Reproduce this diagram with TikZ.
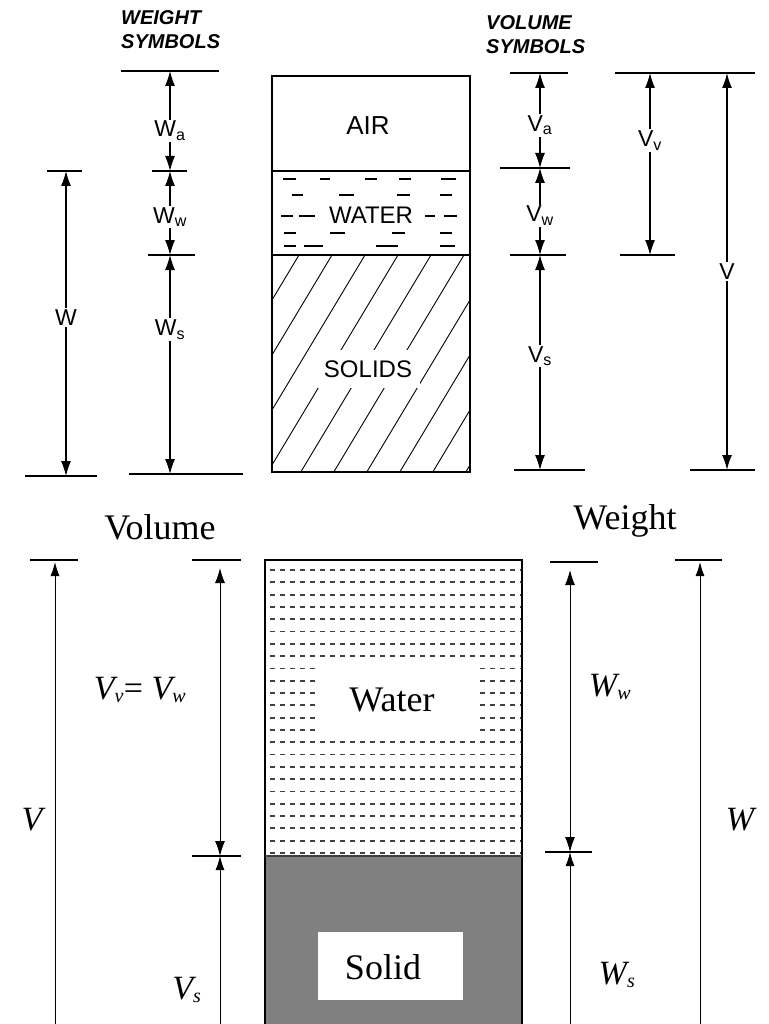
\documentclass[tikz,border=0pt]{standalone}
\usepackage{fontspec}
\setmainfont{Liberation Serif}
\newfontfamily\arial{Liberation Sans}
\usetikzlibrary{arrows.meta}
\newcommand{\sbs}[1]{\textsubscript{\fontsize{20}{20}\selectfont #1}}
\begin{document}
\begin{tikzpicture}[x=1pt,y=-1pt,
  dim/.style={line width=1.1pt,{Latex[length=15pt,width=10pt]}-{Latex[length=15pt,width=10pt]}},
  up/.style={line width=1pt,{Latex[length=14pt,width=9pt]}-},
  tick/.style={line width=1.3pt},
  lab/.style={fill=white,inner sep=1.5pt,font=\arial\fontsize{23}{23}\selectfont},
  head/.style={font=\arial\bfseries\itshape\fontsize{20}{24}\selectfont,align=left,anchor=north west,inner sep=0pt},
  serl/.style={font=\fontsize{36}{36}\selectfont},
  mlab/.style={font=\fontsize{34}{34}\selectfont\itshape}]
\useasboundingbox (0,0) rectangle (768,1024);
% ---------- TOP ----------
\node[head] (wsym) at (121,10) {WEIGHT\\SYMBOLS};
\node[head] (vsym) at (486,15) {VOLUME\\SYMBOLS};
\begin{scope}
\clip (272,255) rectangle (470,472);
\foreach \i in {-6,...,12} \draw[line width=0.9pt] (230+33*\i,480) -- (230+33*\i+150,230);
\end{scope}
\fill[white] (318,350) rectangle (420,388);
\draw[line width=1.6pt] (272,76) rectangle (470,472);
\draw[line width=1.3pt] (272,171) -- (470,171) (272,255) -- (470,255);
\node[font=\arial\fontsize{26}{26}\selectfont] (air) at (368,126) {AIR};
\node[font=\arial\fontsize{24}{24}\selectfont] (sol) at (368,369) {SOLIDS};
\node[font=\arial\fontsize{24}{24}\selectfont,fill=white,inner sep=1pt] (wat) at (371,215) {WATER};
\foreach \a/\b/\y in {283/296/179,320/330/179,365/377/179,399/411/179,441/456/179,
  292/303/195,339/354/195,397/410/195,440/452/195,
  281/293/216,299/315/216,425/435/216,444/457/216,
  284/296/233,330/345/233,392/405/233,440/452/233,
  284/296/246,304/323/246,376/398/246,440/455/246}
  \draw[line width=1.3pt] (\a,\y) -- (\b,\y);
% W
\draw[tick] (47,171) -- (82,171); \draw[tick] (25,476) -- (97,476);
\draw[dim] (66,171) -- (66,476) node[pos=0.48,lab] {W};
% weight column
\draw[tick] (121,71) -- (219,71); \draw[tick] (152,171) -- (187,171);
\draw[tick] (148,255) -- (195,255); \draw[tick] (129,474) -- (243,474);
\draw[dim] (170,71) -- (170,171) node[pos=0.6,lab] {W\textsubscript{a}};
\draw[dim] (170,171) -- (170,255) node[pos=0.55,lab] {W\textsubscript{w}};
\draw[dim] (170,255) -- (170,474) node[pos=0.34,lab] {W\textsubscript{s}};
% volume column
\draw[tick] (510,73) -- (568,73); \draw[tick] (500,168) -- (570,168);
\draw[tick] (510,255) -- (566,255); \draw[tick] (514,470) -- (585,470);
\draw[dim] (540,73) -- (540,168) node[pos=0.55,lab] {V\textsubscript{a}};
\draw[dim] (540,168) -- (540,255) node[pos=0.55,lab] {V\textsubscript{w}};
\draw[dim] (540,255) -- (540,470) node[pos=0.47,lab] {V\textsubscript{s}};
\draw[tick] (615,73) -- (755,73); \draw[tick] (620,255) -- (675,255);
\draw[tick] (690,470) -- (755,470);
\draw[dim] (650,73) -- (650,255) node[pos=0.37,lab] {V\textsubscript{v}};
\draw[dim,line width=1.6pt] (727,73) -- (727,470) node[pos=0.5,lab] {V};
% ---------- BOTTOM ----------
\node[serl] (vol) at (160,527) {Volume};
\node[serl] (wgt) at (625,521) {Weight};
\begin{scope}
\clip (266,561) rectangle (521,855);
\foreach \k in {0,...,23}
  \draw[line width=1.8pt,gray!50!black,dash pattern=on 5pt off 5pt] (270,570+12.3*\k) -- (522,570+12.3*\k);
\end{scope}
\fill[white] (315,660) rectangle (475,735);
\node[font=\fontsize{36}{36}\selectfont] (water) at (392,700) {Water};
\fill[black!50] (265,856) rectangle (522,1030);
\fill[white] (318,932) rectangle (463,1000);
\node[font=\fontsize{36}{36}\selectfont] (solid) at (383,967) {Solid};
\draw[line width=1.4pt] (265,1030) -- (265,560) -- (522,560) -- (522,1030);
\draw[line width=2pt,black!75] (265,856) -- (522,856);
% V
\draw[tick] (30,560) -- (78,560);
\draw[up] (55,562) -- (55,1030);
\node[mlab] (V) at (32,820) {V};
% Vv=Vw, Vs
\draw[tick] (192,560) -- (241,560); \draw[tick] (192,856) -- (241,856);
\draw[dim,line width=1pt] (220,568) -- (220,856);
\draw[up] (220,856) -- (220,1030);
\node[mlab] (vv) at (140,690) {V\sbs{ν}\upshape= \itshape V\sbs{w}};
\node[mlab] (vs) at (187,990) {V\sbs{s}};
% Ww, Ws
\draw[tick] (550,562) -- (598,562); \draw[tick] (545,852) -- (592,852);
\draw[dim,line width=1pt] (570,570) -- (570,852);
\draw[up] (570,852) -- (570,1030);
\node[mlab] (ww) at (610,687) {W\sbs{w}};
\node[mlab] (ws) at (617,975) {W\sbs{s}};
% W
\draw[tick] (675,560) -- (722,560);
\draw[up] (700,562) -- (700,1030);
\node[mlab] (W) at (740,820) {W};
\end{tikzpicture}
\end{document}
